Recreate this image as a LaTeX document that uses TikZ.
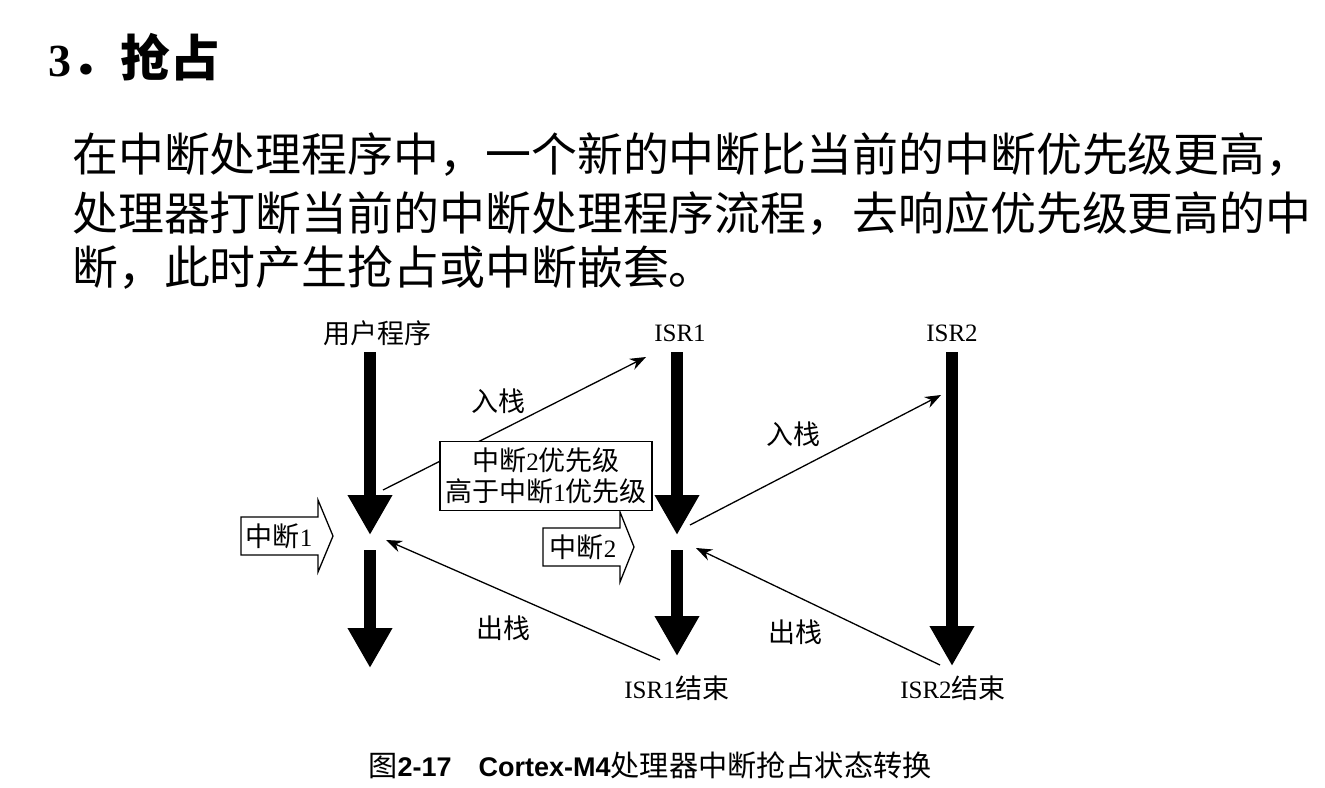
\documentclass[tikz,border=0pt]{standalone}
\usepackage{fontspec}
\setmainfont{Liberation Serif}
\newfontfamily\cjk[Scale=1.08]{Noto Sans CJK SC}
\newfontfamily\capsans{Liberation Sans}
\usetikzlibrary{arrows.meta}
\tikzset{
  thick arrow/.style={line width=12pt,-{Triangle[width=42pt,length=40pt]}},
  thin arrow/.style={line width=1.3pt,-{Stealth[width=12pt,length=16pt]}},
  lbl/.style={font=\fontsize{25}{27}\selectfont, inner sep=0pt},
  hollow/.style={draw, line width=1.3pt, fill=white},
  para/.style={font=\cjk\fontsize{42.5}{44}\selectfont, anchor=west, inner sep=0pt}
}
\newcommand{\zh}[1]{{\cjk #1}}
\begin{document}
\begin{tikzpicture}[x=1pt,y=-1pt]
\useasboundingbox (0,0) rectangle (1325,787);
\node[anchor=west, inner sep=0pt, font=\bfseries\fontsize{46}{48}\selectfont] (title) at (48,57) {3\zh{\bfseries ．抢占}};
\node[para] (p1) at (72,155) {在中断处理程序中，一个新的中断比当前的中断优先级更高，};
\node[para] (p2) at (72,213) {处理器打断当前的中断处理程序流程，去响应优先级更高的中};
\node[para] (p3) at (72,267) {断，此时产生抢占或中断嵌套。};

\node[lbl] (user) at (377,333) {\zh{用户程序}};
\node[lbl] (isr1) at (680,333) {ISR1};
\node[lbl] (isr2) at (952,333) {ISR2};
\node[lbl] (e1) at (677,688) {ISR1\zh{结束}};
\node[lbl] (e2) at (953,688) {ISR2\zh{结束}};

\coordinate (u1) at (370,352); \coordinate (u2) at (370,535);
\coordinate (u3) at (370,550); \coordinate (u4) at (370,668);
\coordinate (a1) at (677,352); \coordinate (a2) at (677,535);
\coordinate (a3) at (677,550); \coordinate (a4) at (677,656);
\coordinate (b1) at (952,352); \coordinate (b2) at (952,666);
\draw[thick arrow] (u1) -- (u2);
\draw[thick arrow] (u3) -- (u4);
\draw[thick arrow] (a1) -- (a2);
\draw[thick arrow] (a3) -- (a4);
\draw[thick arrow] (b1) -- (b2);

\coordinate (s1a) at (383,490); \coordinate (s1b) at (646,357);
\coordinate (s2a) at (690,525); \coordinate (s2b) at (941,395);
\coordinate (r1a) at (660,660); \coordinate (r1b) at (386,540);
\coordinate (r2a) at (940,665); \coordinate (r2b) at (696,548);
\draw[thin arrow] (s1a) -- (s1b);
\draw[thin arrow] (s2a) -- (s2b);
\draw[thin arrow] (r1a) -- (r1b);
\draw[thin arrow] (r2a) -- (r2b);
\node[lbl] (l1) at (498,401) {\zh{入栈}};
\node[lbl] (l2) at (793,434) {\zh{入栈}};
\node[lbl] (l3) at (503,628) {\zh{出栈}};
\node[lbl] (l4) at (795,632) {\zh{出栈}};

\draw[hollow] (241,517) -- (318,517) -- (318,500) -- (333,536) -- (318,572) -- (318,555) -- (241,555) -- cycle;
\node[lbl] (i1) at (279,536) {\zh{中断}1};
\draw[hollow] (543,528) -- (620,528) -- (620,512) -- (634,547) -- (620,582) -- (620,566) -- (543,566) -- cycle;
\node[lbl] (i2) at (583,547) {\zh{中断}2};

\node[draw, line width=1.3pt, fill=white, minimum width=212pt, minimum height=69pt, align=center,
  font=\fontsize{25}{31}\selectfont, inner sep=2pt] (box) at (546,476) {\zh{中断}2\zh{优先级}\\\zh{高于中断}1\zh{优先级}};

\node[inner sep=0pt, font=\fontsize{27}{29}\selectfont] (cap) at (650,765)
  {\zh{图}{\capsans\bfseries 2-17\quad Cortex-M4}\zh{处理器中断抢占状态转换}};
\end{tikzpicture}
\end{document}
